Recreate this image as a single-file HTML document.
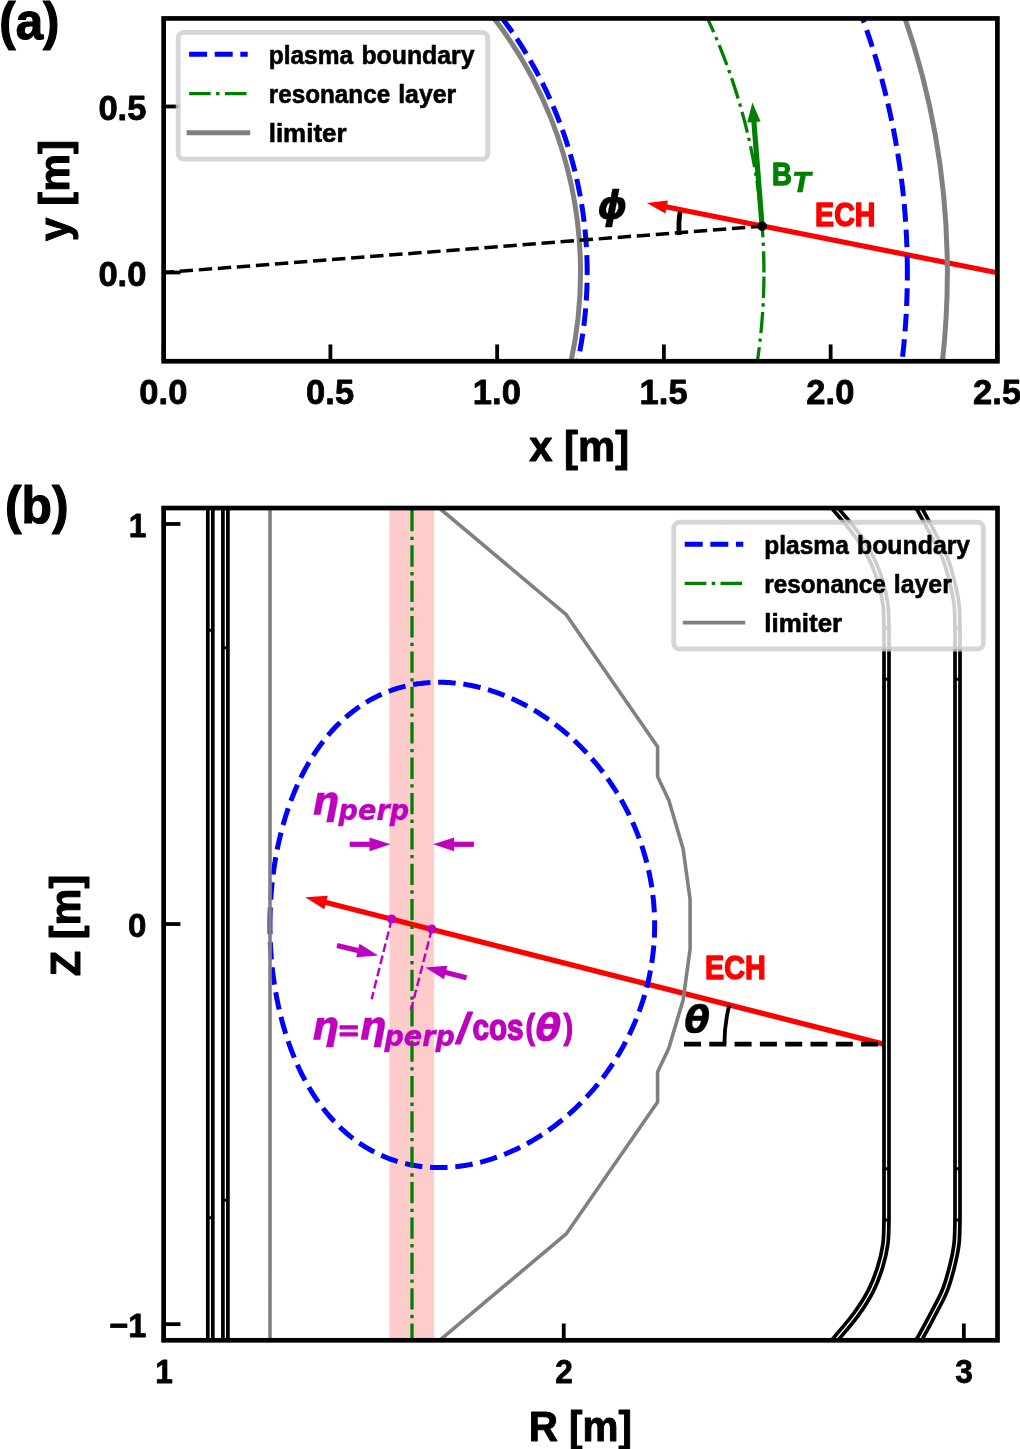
<!DOCTYPE html>
<html><head><meta charset="utf-8"><title>figure</title>
<style>html,body{margin:0;padding:0;background:#fff}svg{display:block}</style></head>
<body>
<svg width="1020" height="1449" viewBox="0 0 1020 1449">
<rect width="1020" height="1449" fill="#fff"/>
<defs><clipPath id="ca"><rect x="163.65" y="18.45" width="833.75" height="342.8"/></clipPath>
<clipPath id="cb"><rect x="163.65" y="508.05" width="833.85" height="832.25"/></clipPath></defs>
<g clip-path="url(#ca)" fill="none">
<path d="M679.36,234.95 A83.2,83.2 0 0 1 680.53,209.79" stroke="#000" stroke-width="4.8"/>
<line x1="997.40" y1="272.70" x2="664.65" y2="206.55" stroke="#ff0000" stroke-width="5.2"/>
<polygon points="646.80,203.00 667.90,200.47 665.33,213.41" fill="#ff0000"/>
<line x1="762.10" y1="226.20" x2="753.77" y2="119.95" stroke="#008000" stroke-width="5.2"/>
<polygon points="752.40,102.50 760.60,121.42 747.24,122.46" fill="#008000"/>
<circle transform="translate(163.65,272.6) scale(1,-1)" cx="0" cy="0" r="416.88" stroke="#808080" stroke-width="5.0"/>
<circle transform="translate(163.65,272.6) scale(1,-1)" cx="0" cy="0" r="783.73" stroke="#808080" stroke-width="5.0"/>
<circle transform="translate(163.65,272.6) scale(1,-1)" cx="0" cy="0" r="423.55" stroke="#0000ff" stroke-width="5.0" stroke-dasharray="17.687 7.872"/>
<circle transform="translate(163.65,272.6) scale(1,-1)" cx="0" cy="0" r="743.71" stroke="#0000ff" stroke-width="5.0" stroke-dasharray="17.638 7.851"/>
<circle transform="translate(163.65,272.6) scale(1,-1)" cx="0" cy="0" r="600.30" stroke="#008000" stroke-width="3.3" stroke-dasharray="21.34 5.33 3.33 5.34"/>
<line x1="163.65" y1="272.6" x2="762.1" y2="226.2" stroke="#000" stroke-width="3.5" stroke-dasharray="13.4 5.7" stroke-dashoffset="3"/>
<circle cx="762.1" cy="226.2" r="4.8" fill="#000"/>
</g>
<text x="597.00" y="218.50" font-family='"DejaVu Sans", sans-serif' font-size="38.6" font-weight="bold" fill="#000" font-style="italic" stroke="#000" stroke-width="0.30" stroke-linejoin="round">ϕ</text>
<text x="772.00" y="184.50" font-family='"Liberation Sans", sans-serif' font-size="31.8" font-weight="bold" fill="#008000" textLength="19.80" lengthAdjust="spacingAndGlyphs" stroke="#008000" stroke-width="1.40" stroke-linejoin="round">B</text>
<text x="792.50" y="191.60" font-family='"DejaVu Sans", sans-serif' font-size="27.4" font-weight="bold" fill="#008000" font-style="italic" stroke="#008000" stroke-width="0.30" stroke-linejoin="round">T</text>
<text x="815.10" y="225.80" font-family='"Liberation Sans", sans-serif' font-size="32.8" font-weight="bold" fill="#ff0000" textLength="60.40" lengthAdjust="spacingAndGlyphs" stroke="#ff0000" stroke-width="1.40" stroke-linejoin="round">ECH</text>
<g stroke="#000" stroke-width="3.8">
<line x1="163.65" y1="361.25" x2="163.65" y2="344.45"/>
<line x1="330.40" y1="361.25" x2="330.40" y2="344.45"/>
<line x1="497.15" y1="361.25" x2="497.15" y2="344.45"/>
<line x1="663.90" y1="361.25" x2="663.90" y2="344.45"/>
<line x1="830.65" y1="361.25" x2="830.65" y2="344.45"/>
<line x1="997.40" y1="361.25" x2="997.40" y2="344.45"/>
<line x1="163.65" y1="272.50" x2="180.45000000000002" y2="272.50"/>
<line x1="163.65" y1="106.50" x2="180.45000000000002" y2="106.50"/>
</g>
<rect x="163.65" y="18.45" width="833.75" height="342.8" fill="none" stroke="#000" stroke-width="4.7"/>
<rect x="178.2" y="32.35" width="309.6" height="126.8" rx="5.8" fill="#fff" fill-opacity="0.8" stroke="#ccc" stroke-opacity="0.8" stroke-width="4.9"/>
<line x1="189.1" y1="54.35" x2="247.7" y2="54.35" stroke="#0000ff" stroke-width="5.0" stroke-dasharray="18.0 7.6"/>
<line x1="189.1" y1="93.55000000000001" x2="247.7" y2="93.55000000000001" stroke="#008000" stroke-width="3.3" stroke-dasharray="21.6 5.4 3.4 5.4"/>
<line x1="189.1" y1="132.85" x2="247.7" y2="132.85" stroke="#808080" stroke-width="5.0" stroke-linecap="square"/>
<text x="268.70" y="63.75" font-family='"Liberation Sans", sans-serif' font-size="26.5" font-weight="bold" fill="#000" textLength="84.50" lengthAdjust="spacingAndGlyphs" stroke="#000" stroke-width="0.61" stroke-linejoin="round">plasma</text>
<text x="361.40" y="63.75" font-family='"Liberation Sans", sans-serif' font-size="26.5" font-weight="bold" fill="#000" textLength="113.20" lengthAdjust="spacingAndGlyphs" stroke="#000" stroke-width="0.61" stroke-linejoin="round">boundary</text>
<text x="268.70" y="102.65" font-family='"Liberation Sans", sans-serif' font-size="26.5" font-weight="bold" fill="#000" textLength="121.50" lengthAdjust="spacingAndGlyphs" stroke="#000" stroke-width="0.61" stroke-linejoin="round">resonance</text>
<text x="398.20" y="102.65" font-family='"Liberation Sans", sans-serif' font-size="26.5" font-weight="bold" fill="#000" textLength="58.00" lengthAdjust="spacingAndGlyphs" stroke="#000" stroke-width="0.61" stroke-linejoin="round">layer</text>
<text x="268.70" y="141.95" font-family='"Liberation Sans", sans-serif' font-size="26.5" font-weight="bold" fill="#000" textLength="77.90" lengthAdjust="spacingAndGlyphs" stroke="#000" stroke-width="0.61" stroke-linejoin="round">limiter</text>
<text x="163.35" y="404.30" font-family='"Liberation Sans", sans-serif' font-size="34.6" font-weight="bold" fill="#000" text-anchor="middle" textLength="48.00" lengthAdjust="spacingAndGlyphs" stroke="#000" stroke-width="0.80" stroke-linejoin="round">0.0</text>
<text x="330.10" y="404.30" font-family='"Liberation Sans", sans-serif' font-size="34.6" font-weight="bold" fill="#000" text-anchor="middle" textLength="48.00" lengthAdjust="spacingAndGlyphs" stroke="#000" stroke-width="0.80" stroke-linejoin="round">0.5</text>
<text x="496.85" y="404.30" font-family='"Liberation Sans", sans-serif' font-size="34.6" font-weight="bold" fill="#000" text-anchor="middle" textLength="48.00" lengthAdjust="spacingAndGlyphs" stroke="#000" stroke-width="0.80" stroke-linejoin="round">1.0</text>
<text x="663.60" y="404.30" font-family='"Liberation Sans", sans-serif' font-size="34.6" font-weight="bold" fill="#000" text-anchor="middle" textLength="48.00" lengthAdjust="spacingAndGlyphs" stroke="#000" stroke-width="0.80" stroke-linejoin="round">1.5</text>
<text x="830.35" y="404.30" font-family='"Liberation Sans", sans-serif' font-size="34.6" font-weight="bold" fill="#000" text-anchor="middle" textLength="48.00" lengthAdjust="spacingAndGlyphs" stroke="#000" stroke-width="0.80" stroke-linejoin="round">2.0</text>
<text x="997.10" y="404.30" font-family='"Liberation Sans", sans-serif' font-size="34.6" font-weight="bold" fill="#000" text-anchor="middle" textLength="48.00" lengthAdjust="spacingAndGlyphs" stroke="#000" stroke-width="0.80" stroke-linejoin="round">2.5</text>
<text x="146.40" y="286.40" font-family='"Liberation Sans", sans-serif' font-size="34.6" font-weight="bold" fill="#000" text-anchor="end" textLength="48.00" lengthAdjust="spacingAndGlyphs" stroke="#000" stroke-width="0.80" stroke-linejoin="round">0.0</text>
<text x="146.40" y="119.60" font-family='"Liberation Sans", sans-serif' font-size="34.6" font-weight="bold" fill="#000" text-anchor="end" textLength="48.00" lengthAdjust="spacingAndGlyphs" stroke="#000" stroke-width="0.80" stroke-linejoin="round">0.5</text>
<text x="579.20" y="461.20" font-family='"Liberation Sans", sans-serif' font-size="43" font-weight="bold" fill="#000" text-anchor="middle" textLength="100.00" lengthAdjust="spacingAndGlyphs" stroke="#000" stroke-width="0.99" stroke-linejoin="round">x [m]</text>
<g transform="translate(69.2,190.6) rotate(-90)">
<text x="0.00" y="0.00" font-family='"Liberation Sans", sans-serif' font-size="43" font-weight="bold" fill="#000" text-anchor="middle" textLength="101.50" lengthAdjust="spacingAndGlyphs" stroke="#000" stroke-width="0.99" stroke-linejoin="round">y [m]</text>
</g>
<text x="-0.70" y="38.70" font-family='"Liberation Sans", sans-serif' font-size="52.5" font-weight="bold" fill="#000" textLength="60.20" lengthAdjust="spacingAndGlyphs" stroke="#000" stroke-width="1.21" stroke-linejoin="round">(a)</text>
<g clip-path="url(#cb)" fill="none">
<rect x="389.4" y="508.05" width="44.7" height="832.25" fill="#ffcccc"/>
<line x1="884.50" y1="1044.40" x2="324.10" y2="902.00" stroke="#ff0000" stroke-width="5.3"/>
<polygon points="305.20,897.20 327.76,895.71 324.31,909.28" fill="#ff0000"/>
<line x1="349.70" y1="844.30" x2="371.50" y2="844.30" stroke="#bf00bf" stroke-width="5.2"/>
<polygon points="390.50,844.30 369.50,851.20 369.50,837.40" fill="#bf00bf"/>
<line x1="473.90" y1="844.30" x2="452.10" y2="844.30" stroke="#bf00bf" stroke-width="5.2"/>
<polygon points="433.10,844.30 454.10,837.40 454.10,851.20" fill="#bf00bf"/>
<line x1="337.00" y1="945.50" x2="359.74" y2="951.02" stroke="#bf00bf" stroke-width="5.2"/>
<polygon points="378.20,955.50 356.17,957.25 359.42,943.84" fill="#bf00bf"/>
<line x1="466.50" y1="977.70" x2="443.74" y2="972.07" stroke="#bf00bf" stroke-width="5.2"/>
<polygon points="425.30,967.50 447.34,965.85 444.03,979.24" fill="#bf00bf"/>
<line x1="210.3" y1="508.05" x2="210.3" y2="1340.3" stroke="#000" stroke-width="8.7"/>
<line x1="210.3" y1="508.05" x2="210.3" y2="1340.3" stroke="#fff" stroke-width="1.3"/>
<line x1="208.8" y1="630.30" x2="211.8" y2="630.30" stroke="#000" stroke-width="3"/>
<line x1="208.8" y1="1217.80" x2="211.8" y2="1217.80" stroke="#000" stroke-width="3"/>
<line x1="225.4" y1="508.05" x2="225.4" y2="1340.3" stroke="#000" stroke-width="8.7"/>
<line x1="225.4" y1="508.05" x2="225.4" y2="1340.3" stroke="#fff" stroke-width="1.3"/>
<line x1="223.9" y1="647.80" x2="226.9" y2="647.80" stroke="#000" stroke-width="3"/>
<line x1="223.9" y1="1200.30" x2="226.9" y2="1200.30" stroke="#000" stroke-width="3"/>
<path d="M815.00,485.10 C818.58,489.23 829.70,501.85 836.50,509.90 C843.30,517.95 850.12,525.57 855.80,533.40 C861.48,541.23 866.57,549.05 870.60,556.90 C874.63,564.75 877.53,572.63 880.00,580.50 C882.47,588.37 884.32,596.17 885.40,604.10 C886.48,612.03 886.32,624.10 886.50,628.10 L886.50,1220.00 C886.32,1224.00 886.48,1236.07 885.40,1244.00 C884.32,1251.93 882.47,1259.73 880.00,1267.60 C877.53,1275.47 874.63,1283.35 870.60,1291.20 C866.57,1299.05 861.48,1306.87 855.80,1314.70 C850.12,1322.53 843.30,1330.15 836.50,1338.20 C829.70,1346.25 818.58,1358.87 815.00,1363.00" stroke="#000" stroke-width="8.7" stroke-linejoin="round"/>
<path d="M815.00,485.10 C818.58,489.23 829.70,501.85 836.50,509.90 C843.30,517.95 850.12,525.57 855.80,533.40 C861.48,541.23 866.57,549.05 870.60,556.90 C874.63,564.75 877.53,572.63 880.00,580.50 C882.47,588.37 884.32,596.17 885.40,604.10 C886.48,612.03 886.32,624.10 886.50,628.10 L886.50,1220.00 C886.32,1224.00 886.48,1236.07 885.40,1244.00 C884.32,1251.93 882.47,1259.73 880.00,1267.60 C877.53,1275.47 874.63,1283.35 870.60,1291.20 C866.57,1299.05 861.48,1306.87 855.80,1314.70 C850.12,1322.53 843.30,1330.15 836.50,1338.20 C829.70,1346.25 818.58,1358.87 815.00,1363.00" stroke="#fff" stroke-width="1.3" stroke-linejoin="round"/>
<line x1="885.0" y1="1168.80" x2="888.0" y2="1168.80" stroke="#000" stroke-width="3"/>
<line x1="885.0" y1="1220.00" x2="888.0" y2="1220.00" stroke="#000" stroke-width="3"/>
<line x1="885.0" y1="679.30" x2="888.0" y2="679.30" stroke="#000" stroke-width="3"/>
<line x1="885.0" y1="628.10" x2="888.0" y2="628.10" stroke="#000" stroke-width="3"/>
<path d="M906.00,485.10 C908.33,489.23 915.55,501.85 920.00,509.90 C924.45,517.95 928.62,525.57 932.70,533.40 C936.78,541.23 941.32,549.05 944.50,556.90 C947.68,564.75 949.80,572.63 951.80,580.50 C953.80,588.37 955.55,596.17 956.50,604.10 C957.45,612.03 957.33,624.10 957.50,628.10 L957.50,1220.00 C957.33,1224.00 957.45,1236.07 956.50,1244.00 C955.55,1251.93 953.80,1259.73 951.80,1267.60 C949.80,1275.47 947.68,1283.35 944.50,1291.20 C941.32,1299.05 936.78,1306.87 932.70,1314.70 C928.62,1322.53 924.45,1330.15 920.00,1338.20 C915.55,1346.25 908.33,1358.87 906.00,1363.00" stroke="#000" stroke-width="8.7" stroke-linejoin="round"/>
<path d="M906.00,485.10 C908.33,489.23 915.55,501.85 920.00,509.90 C924.45,517.95 928.62,525.57 932.70,533.40 C936.78,541.23 941.32,549.05 944.50,556.90 C947.68,564.75 949.80,572.63 951.80,580.50 C953.80,588.37 955.55,596.17 956.50,604.10 C957.45,612.03 957.33,624.10 957.50,628.10 L957.50,1220.00 C957.33,1224.00 957.45,1236.07 956.50,1244.00 C955.55,1251.93 953.80,1259.73 951.80,1267.60 C949.80,1275.47 947.68,1283.35 944.50,1291.20 C941.32,1299.05 936.78,1306.87 932.70,1314.70 C928.62,1322.53 924.45,1330.15 920.00,1338.20 C915.55,1346.25 908.33,1358.87 906.00,1363.00" stroke="#fff" stroke-width="1.3" stroke-linejoin="round"/>
<line x1="956.0" y1="1168.80" x2="959.0" y2="1168.80" stroke="#000" stroke-width="3"/>
<line x1="956.0" y1="1220.00" x2="959.0" y2="1220.00" stroke="#000" stroke-width="3"/>
<line x1="956.0" y1="679.30" x2="959.0" y2="679.30" stroke="#000" stroke-width="3"/>
<line x1="956.0" y1="628.10" x2="959.0" y2="628.10" stroke="#000" stroke-width="3"/>
<path d="M269.95,924.92 L269.96,922.79 L269.97,920.66 L270.00,918.54 L270.04,916.41 L270.09,914.28 L270.15,912.16 L270.22,910.03 L270.31,907.91 L270.40,905.79 L270.51,903.66 L270.63,901.55 L270.76,899.43 L270.90,897.31 L271.05,895.20 L271.21,893.09 L271.38,890.98 L271.57,888.87 L271.77,886.77 L271.97,884.67 L272.19,882.58 L272.42,880.48 L272.66,878.39 L272.91,876.31 L273.18,874.22 L273.45,872.15 L273.74,870.07 L274.03,868.00 L274.34,865.94 L274.66,863.87 L274.99,861.82 L275.33,859.77 L275.68,857.72 L276.05,855.68 L276.42,853.64 L276.81,851.61 L277.21,849.59 L277.61,847.57 L278.03,845.56 L278.46,843.55 L278.91,841.55 L279.36,839.56 L279.82,837.58 L280.30,835.60 L280.78,833.62 L281.28,831.66 L281.79,829.70 L282.31,827.75 L282.84,825.81 L283.38,823.87 L283.93,821.94 L284.49,820.02 L285.07,818.11 L285.65,816.21 L286.25,814.31 L286.86,812.43 L287.48,810.55 L288.11,808.68 L288.75,806.82 L289.40,804.97 L290.06,803.13 L290.73,801.30 L291.42,799.48 L292.11,797.67 L292.82,795.87 L293.53,794.07 L294.26,792.29 L295.00,790.52 L295.75,788.76 L296.51,787.01 L297.28,785.27 L298.06,783.54 L298.85,781.82 L299.66,780.11 L300.47,778.42 L301.29,776.73 L302.13,775.06 L302.98,773.40 L303.83,771.75 L304.70,770.11 L305.58,768.49 L306.46,766.87 L307.36,765.27 L308.27,763.68 L309.19,762.10 L310.12,760.54 L311.06,758.99 L312.01,757.45 L312.97,755.92 L313.95,754.41 L314.93,752.91 L315.92,751.42 L316.92,749.95 L317.94,748.49 L318.96,747.04 L319.99,745.61 L321.04,744.19 L322.09,742.79 L323.15,741.40 L324.23,740.02 L325.31,738.66 L326.40,737.31 L327.51,735.97 L328.62,734.65 L329.74,733.35 L330.88,732.06 L332.02,730.78 L333.17,729.52 L334.33,728.28 L335.50,727.05 L336.69,725.83 L337.88,724.63 L339.08,723.44 L340.29,722.27 L341.51,721.12 L342.73,719.98 L343.97,718.86 L345.22,717.75 L346.47,716.66 L347.74,715.58 L349.01,714.52 L350.30,713.48 L351.59,712.45 L352.89,711.44 L354.20,710.45 L355.52,709.47 L356.85,708.50 L358.18,707.56 L359.53,706.63 L360.88,705.72 L362.24,704.82 L363.61,703.94 L364.99,703.08 L366.37,702.23 L367.77,701.40 L369.17,700.59 L370.58,699.79 L372.00,699.02 L373.43,698.25 L374.86,697.51 L376.30,696.78 L377.75,696.07 L379.21,695.38 L380.68,694.71 L382.15,694.05 L383.63,693.41 L385.11,692.79 L386.61,692.18 L388.11,691.60 L389.62,691.03 L391.13,690.48 L392.65,689.94 L394.18,689.43 L395.71,688.93 L397.26,688.45 L398.80,687.98 L400.36,687.54 L401.92,687.11 L403.48,686.70 L405.06,686.31 L406.63,685.94 L408.22,685.58 L409.81,685.25 L411.40,684.93 L413.00,684.63 L414.61,684.34 L416.22,684.08 L417.84,683.83 L419.46,683.61 L421.09,683.40 L422.72,683.20 L424.35,683.03 L426.00,682.87 L427.64,682.74 L429.29,682.62 L430.94,682.52 L432.60,682.44 L434.26,682.37 L435.93,682.33 L437.60,682.30 L439.27,682.29 L440.95,682.30 L442.63,682.33 L444.31,682.37 L446.00,682.44 L447.69,682.52 L449.38,682.62 L451.08,682.74 L452.78,682.87 L454.48,683.03 L456.18,683.20 L457.88,683.40 L459.59,683.61 L461.30,683.83 L463.01,684.08 L464.72,684.34 L466.44,684.63 L468.15,684.93 L469.87,685.25 L471.59,685.58 L473.31,685.94 L475.02,686.31 L476.74,686.70 L478.46,687.11 L480.19,687.54 L481.91,687.98 L483.63,688.45 L485.35,688.93 L487.07,689.43 L488.79,689.94 L490.51,690.48 L492.23,691.03 L493.95,691.60 L495.66,692.18 L497.38,692.79 L499.09,693.41 L500.81,694.05 L502.52,694.71 L504.23,695.38 L505.94,696.07 L507.64,696.78 L509.35,697.51 L511.05,698.25 L512.75,699.02 L514.44,699.79 L516.14,700.59 L517.83,701.40 L519.51,702.23 L521.20,703.08 L522.87,703.94 L524.55,704.82 L526.22,705.72 L527.89,706.63 L529.56,707.56 L531.21,708.50 L532.87,709.47 L534.52,710.45 L536.17,711.44 L537.81,712.45 L539.44,713.48 L541.07,714.52 L542.70,715.58 L544.31,716.66 L545.93,717.75 L547.53,718.86 L549.13,719.98 L550.73,721.12 L552.32,722.27 L553.90,723.44 L555.47,724.63 L557.04,725.83 L558.60,727.05 L560.15,728.28 L561.70,729.52 L563.24,730.78 L564.77,732.06 L566.29,733.35 L567.80,734.65 L569.31,735.97 L570.81,737.31 L572.30,738.66 L573.78,740.02 L575.25,741.40 L576.71,742.79 L578.16,744.19 L579.61,745.61 L581.04,747.04 L582.46,748.49 L583.88,749.95 L585.28,751.42 L586.68,752.91 L588.06,754.41 L589.43,755.92 L590.80,757.45 L592.15,758.99 L593.49,760.54 L594.82,762.10 L596.14,763.68 L597.45,765.27 L598.74,766.87 L600.03,768.49 L601.30,770.11 L602.56,771.75 L603.81,773.40 L605.05,775.06 L606.27,776.73 L607.48,778.42 L608.68,780.11 L609.87,781.82 L611.04,783.54 L612.20,785.27 L613.34,787.01 L614.48,788.76 L615.60,790.52 L616.70,792.29 L617.80,794.07 L618.88,795.87 L619.94,797.67 L620.99,799.48 L622.03,801.30 L623.05,803.13 L624.06,804.97 L625.05,806.82 L626.03,808.68 L627.00,810.55 L627.94,812.43 L628.88,814.31 L629.80,816.21 L630.70,818.11 L631.59,820.02 L632.46,821.94 L633.32,823.87 L634.16,825.81 L634.99,827.75 L635.80,829.70 L636.59,831.66 L637.37,833.62 L638.13,835.60 L638.88,837.58 L639.61,839.56 L640.32,841.55 L641.02,843.55 L641.70,845.56 L642.36,847.57 L643.01,849.59 L643.64,851.61 L644.25,853.64 L644.85,855.68 L645.43,857.72 L645.99,859.77 L646.53,861.82 L647.06,863.87 L647.57,865.94 L648.06,868.00 L648.54,870.07 L649.00,872.15 L649.44,874.22 L649.86,876.31 L650.27,878.39 L650.65,880.48 L651.02,882.58 L651.38,884.67 L651.71,886.77 L652.03,888.87 L652.33,890.98 L652.61,893.09 L652.87,895.20 L653.11,897.31 L653.34,899.43 L653.55,901.55 L653.74,903.66 L653.91,905.79 L654.07,907.91 L654.20,910.03 L654.32,912.16 L654.42,914.28 L654.50,916.41 L654.57,918.54 L654.61,920.66 L654.64,922.79 L654.65,924.92 L654.64,927.05 L654.61,929.18 L654.57,931.30 L654.50,933.43 L654.42,935.56 L654.32,937.68 L654.20,939.81 L654.07,941.93 L653.91,944.05 L653.74,946.18 L653.55,948.29 L653.34,950.41 L653.11,952.53 L652.87,954.64 L652.61,956.75 L652.33,958.86 L652.03,960.97 L651.71,963.07 L651.38,965.17 L651.02,967.26 L650.65,969.36 L650.27,971.45 L649.86,973.53 L649.44,975.62 L649.00,977.69 L648.54,979.77 L648.06,981.84 L647.57,983.90 L647.06,985.97 L646.53,988.02 L645.99,990.07 L645.43,992.12 L644.85,994.16 L644.25,996.20 L643.64,998.23 L643.01,1000.25 L642.36,1002.27 L641.70,1004.28 L641.02,1006.29 L640.32,1008.29 L639.61,1010.28 L638.88,1012.26 L638.13,1014.24 L637.37,1016.22 L636.59,1018.18 L635.80,1020.14 L634.99,1022.09 L634.16,1024.03 L633.32,1025.97 L632.46,1027.90 L631.59,1029.82 L630.70,1031.73 L629.80,1033.63 L628.88,1035.53 L627.94,1037.41 L627.00,1039.29 L626.03,1041.16 L625.05,1043.02 L624.06,1044.87 L623.05,1046.71 L622.03,1048.54 L620.99,1050.36 L619.94,1052.17 L618.88,1053.97 L617.80,1055.77 L616.70,1057.55 L615.60,1059.32 L614.48,1061.08 L613.34,1062.83 L612.20,1064.57 L611.04,1066.30 L609.87,1068.02 L608.68,1069.73 L607.48,1071.42 L606.27,1073.11 L605.05,1074.78 L603.81,1076.44 L602.56,1078.09 L601.30,1079.73 L600.03,1081.35 L598.74,1082.97 L597.45,1084.57 L596.14,1086.16 L594.82,1087.74 L593.49,1089.30 L592.15,1090.85 L590.80,1092.39 L589.43,1093.92 L588.06,1095.43 L586.68,1096.93 L585.28,1098.42 L583.88,1099.89 L582.46,1101.35 L581.04,1102.80 L579.61,1104.23 L578.16,1105.65 L576.71,1107.05 L575.25,1108.44 L573.78,1109.82 L572.30,1111.18 L570.81,1112.53 L569.31,1113.87 L567.80,1115.19 L566.29,1116.49 L564.77,1117.78 L563.24,1119.06 L561.70,1120.32 L560.15,1121.56 L558.60,1122.79 L557.04,1124.01 L555.47,1125.21 L553.90,1126.40 L552.32,1127.57 L550.73,1128.72 L549.13,1129.86 L547.53,1130.98 L545.93,1132.09 L544.31,1133.18 L542.70,1134.26 L541.07,1135.32 L539.44,1136.36 L537.81,1137.39 L536.17,1138.40 L534.52,1139.39 L532.87,1140.37 L531.21,1141.34 L529.56,1142.28 L527.89,1143.21 L526.22,1144.12 L524.55,1145.02 L522.87,1145.90 L521.20,1146.76 L519.51,1147.61 L517.83,1148.44 L516.14,1149.25 L514.44,1150.05 L512.75,1150.82 L511.05,1151.59 L509.35,1152.33 L507.64,1153.06 L505.94,1153.77 L504.23,1154.46 L502.52,1155.13 L500.81,1155.79 L499.09,1156.43 L497.38,1157.05 L495.66,1157.66 L493.95,1158.24 L492.23,1158.81 L490.51,1159.36 L488.79,1159.90 L487.07,1160.41 L485.35,1160.91 L483.63,1161.39 L481.91,1161.86 L480.19,1162.30 L478.46,1162.73 L476.74,1163.14 L475.02,1163.53 L473.31,1163.90 L471.59,1164.26 L469.87,1164.59 L468.15,1164.91 L466.44,1165.21 L464.72,1165.50 L463.01,1165.76 L461.30,1166.01 L459.59,1166.23 L457.88,1166.44 L456.18,1166.64 L454.48,1166.81 L452.78,1166.97 L451.08,1167.10 L449.38,1167.22 L447.69,1167.32 L446.00,1167.40 L444.31,1167.47 L442.63,1167.51 L440.95,1167.54 L439.27,1167.55 L437.60,1167.54 L435.93,1167.51 L434.26,1167.47 L432.60,1167.40 L430.94,1167.32 L429.29,1167.22 L427.64,1167.10 L426.00,1166.97 L424.35,1166.81 L422.72,1166.64 L421.09,1166.44 L419.46,1166.23 L417.84,1166.01 L416.22,1165.76 L414.61,1165.50 L413.00,1165.21 L411.40,1164.91 L409.81,1164.59 L408.22,1164.26 L406.63,1163.90 L405.06,1163.53 L403.48,1163.14 L401.92,1162.73 L400.36,1162.30 L398.80,1161.86 L397.26,1161.39 L395.71,1160.91 L394.18,1160.41 L392.65,1159.90 L391.13,1159.36 L389.62,1158.81 L388.11,1158.24 L386.61,1157.66 L385.11,1157.05 L383.63,1156.43 L382.15,1155.79 L380.68,1155.13 L379.21,1154.46 L377.75,1153.77 L376.30,1153.06 L374.86,1152.33 L373.43,1151.59 L372.00,1150.82 L370.58,1150.05 L369.17,1149.25 L367.77,1148.44 L366.37,1147.61 L364.99,1146.76 L363.61,1145.90 L362.24,1145.02 L360.88,1144.12 L359.53,1143.21 L358.18,1142.28 L356.85,1141.34 L355.52,1140.37 L354.20,1139.39 L352.89,1138.40 L351.59,1137.39 L350.30,1136.36 L349.01,1135.32 L347.74,1134.26 L346.47,1133.18 L345.22,1132.09 L343.97,1130.98 L342.73,1129.86 L341.51,1128.72 L340.29,1127.57 L339.08,1126.40 L337.88,1125.21 L336.69,1124.01 L335.50,1122.79 L334.33,1121.56 L333.17,1120.32 L332.02,1119.06 L330.88,1117.78 L329.74,1116.49 L328.62,1115.19 L327.51,1113.87 L326.40,1112.53 L325.31,1111.18 L324.23,1109.82 L323.15,1108.44 L322.09,1107.05 L321.04,1105.65 L319.99,1104.23 L318.96,1102.80 L317.94,1101.35 L316.92,1099.89 L315.92,1098.42 L314.93,1096.93 L313.95,1095.43 L312.97,1093.92 L312.01,1092.39 L311.06,1090.85 L310.12,1089.30 L309.19,1087.74 L308.27,1086.16 L307.36,1084.57 L306.46,1082.97 L305.58,1081.35 L304.70,1079.73 L303.83,1078.09 L302.98,1076.44 L302.13,1074.78 L301.29,1073.11 L300.47,1071.42 L299.66,1069.73 L298.85,1068.02 L298.06,1066.30 L297.28,1064.57 L296.51,1062.83 L295.75,1061.08 L295.00,1059.32 L294.26,1057.55 L293.53,1055.77 L292.82,1053.97 L292.11,1052.17 L291.42,1050.36 L290.73,1048.54 L290.06,1046.71 L289.40,1044.87 L288.75,1043.02 L288.11,1041.16 L287.48,1039.29 L286.86,1037.41 L286.25,1035.53 L285.65,1033.63 L285.07,1031.73 L284.49,1029.82 L283.93,1027.90 L283.38,1025.97 L282.84,1024.03 L282.31,1022.09 L281.79,1020.14 L281.28,1018.18 L280.78,1016.22 L280.30,1014.24 L279.82,1012.26 L279.36,1010.28 L278.91,1008.29 L278.46,1006.29 L278.03,1004.28 L277.61,1002.27 L277.21,1000.25 L276.81,998.23 L276.42,996.20 L276.05,994.16 L275.68,992.12 L275.33,990.07 L274.99,988.02 L274.66,985.97 L274.34,983.90 L274.03,981.84 L273.74,979.77 L273.45,977.69 L273.18,975.62 L272.91,973.53 L272.66,971.45 L272.42,969.36 L272.19,967.26 L271.97,965.17 L271.77,963.07 L271.57,960.97 L271.38,958.86 L271.21,956.75 L271.05,954.64 L270.90,952.53 L270.76,950.41 L270.63,948.29 L270.51,946.18 L270.40,944.05 L270.31,941.93 L270.22,939.81 L270.15,937.68 L270.09,935.56 L270.04,933.43 L270.00,931.30 L269.97,929.18 L269.96,927.05 L269.95,924.92" stroke="#0000ff" stroke-width="5.0" stroke-dasharray="17.510 7.757"/>
<polyline points="270,1360.60 270,488.00 415.51,488.00 439.30,508.00 566.20,614.70 657.60,746.70 657.60,776.60 668.90,800.60 683.10,848.70 690.10,899.60 690.10,949.10 683.10,999.90 668.90,1048.00 657.60,1072.00 657.60,1101.90 566.20,1233.90 439.30,1340.60 415.51,1360.60" stroke="#808080" stroke-width="3.6" stroke-linejoin="round"/>
<line x1="412" y1="1340.3" x2="412" y2="508.05" stroke="#008000" stroke-width="3.3" stroke-dasharray="21.3 5.35 3.35 5.37" stroke-dashoffset="4.5"/>
<line x1="684" y1="1044.1" x2="883.6" y2="1044.1" stroke="#000" stroke-width="4.7" stroke-dasharray="17.0 8.3"/>
<path d="M724.40,1044.2 A159.2,159.2 0 0 1 729.24,1005.23" stroke="#000" stroke-width="3.8"/>
<line x1="391.7" y1="919.3" x2="371.6" y2="999.2" stroke="#bf00bf" stroke-width="2.4" stroke-dasharray="8.7 3.8"/>
<line x1="431.8" y1="929.3" x2="410.7" y2="1011.0" stroke="#bf00bf" stroke-width="2.4" stroke-dasharray="8.7 3.8"/>
<circle cx="391.7" cy="919.0" r="4.6" fill="#bf00bf"/><circle cx="431.8" cy="929.0" r="4.6" fill="#bf00bf"/>
</g>
<text x="311.80" y="813.60" font-family='"DejaVu Sans", sans-serif' font-size="38.6" font-weight="bold" fill="#bf00bf" font-style="italic" stroke="#bf00bf" stroke-width="0.30" stroke-linejoin="round">η</text>
<text x="338.60" y="819.80" font-family='"DejaVu Sans", sans-serif' font-size="29" font-weight="bold" fill="#bf00bf" font-style="italic" textLength="70.60" lengthAdjust="spacingAndGlyphs" stroke="#bf00bf" stroke-width="0.40" stroke-linejoin="round">perp</text>
<text x="705.00" y="979.10" font-family='"Liberation Sans", sans-serif' font-size="32.8" font-weight="bold" fill="#ff0000" textLength="60.80" lengthAdjust="spacingAndGlyphs" stroke="#ff0000" stroke-width="1.40" stroke-linejoin="round">ECH</text>
<text x="684.20" y="1032.20" font-family='"DejaVu Sans", sans-serif' font-size="37.6" font-weight="bold" fill="#000" font-style="italic" stroke="#000" stroke-width="0.30" stroke-linejoin="round">θ</text>
<text x="311.60" y="1039.40" font-family='"DejaVu Sans", sans-serif' font-size="38.6" font-weight="bold" fill="#bf00bf" font-style="italic" stroke="#bf00bf" stroke-width="0.30" stroke-linejoin="round">η</text>
<text x="338.90" y="1039.70" font-family='"Liberation Sans", sans-serif' font-size="26.4" font-weight="bold" fill="#bf00bf" textLength="19.50" lengthAdjust="spacingAndGlyphs" stroke="#bf00bf" stroke-width="1.30" stroke-linejoin="round">=</text>
<text x="358.90" y="1039.40" font-family='"DejaVu Sans", sans-serif' font-size="38.6" font-weight="bold" fill="#bf00bf" font-style="italic" stroke="#bf00bf" stroke-width="0.30" stroke-linejoin="round">η</text>
<text x="384.40" y="1045.80" font-family='"DejaVu Sans", sans-serif' font-size="29" font-weight="bold" fill="#bf00bf" font-style="italic" textLength="70.60" lengthAdjust="spacingAndGlyphs" stroke="#bf00bf" stroke-width="0.40" stroke-linejoin="round">perp</text>
<text x="455.20" y="1044.40" font-family='"Liberation Sans", sans-serif' font-size="44" font-weight="normal" fill="#bf00bf" textLength="17.40" lengthAdjust="spacingAndGlyphs" stroke="#bf00bf" stroke-width="0.90" stroke-linejoin="round">/</text>
<text x="472.40" y="1040.00" font-family='"Liberation Sans", sans-serif' font-size="37.5" font-weight="bold" fill="#bf00bf" textLength="51.20" lengthAdjust="spacingAndGlyphs" stroke="#bf00bf" stroke-width="1.60" stroke-linejoin="round">cos</text>
<text x="525.40" y="1038.60" font-family='"Liberation Sans", sans-serif' font-size="34.5" font-weight="bold" fill="#bf00bf" textLength="9.60" lengthAdjust="spacingAndGlyphs" stroke="#bf00bf" stroke-width="1.20" stroke-linejoin="round">(</text>
<text x="535.40" y="1040.40" font-family='"DejaVu Sans", sans-serif' font-size="37.6" font-weight="bold" fill="#bf00bf" font-style="italic" stroke="#bf00bf" stroke-width="0.30" stroke-linejoin="round">θ</text>
<text x="563.60" y="1038.60" font-family='"Liberation Sans", sans-serif' font-size="34.5" font-weight="bold" fill="#bf00bf" textLength="9.60" lengthAdjust="spacingAndGlyphs" stroke="#bf00bf" stroke-width="1.20" stroke-linejoin="round">)</text>
<g stroke="#000" stroke-width="3.8">
<line x1="163.65" y1="1340.3" x2="163.65" y2="1323.5"/>
<line x1="563.75" y1="1340.3" x2="563.75" y2="1323.5"/>
<line x1="963.85" y1="1340.3" x2="963.85" y2="1323.5"/>
<line x1="163.65" y1="523.95" x2="180.45000000000002" y2="523.95"/>
<line x1="163.65" y1="924.05" x2="180.45000000000002" y2="924.05"/>
<line x1="163.65" y1="1324.15" x2="180.45000000000002" y2="1324.15"/>
</g>
<rect x="163.65" y="508.05" width="833.85" height="832.25" fill="none" stroke="#000" stroke-width="4.7"/>
<rect x="673.8" y="522.2" width="309.6" height="126.8" rx="5.8" fill="#fff" fill-opacity="0.8" stroke="#ccc" stroke-opacity="0.8" stroke-width="4.9"/>
<line x1="684.6999999999999" y1="544.2" x2="743.3" y2="544.2" stroke="#0000ff" stroke-width="5.0" stroke-dasharray="18.0 7.6"/>
<line x1="684.6999999999999" y1="583.4000000000001" x2="743.3" y2="583.4000000000001" stroke="#008000" stroke-width="3.3" stroke-dasharray="21.6 5.4 3.4 5.4"/>
<line x1="684.6999999999999" y1="622.7" x2="743.3" y2="622.7" stroke="#808080" stroke-width="3.8" stroke-linecap="square"/>
<text x="764.30" y="553.60" font-family='"Liberation Sans", sans-serif' font-size="26.5" font-weight="bold" fill="#000" textLength="84.50" lengthAdjust="spacingAndGlyphs" stroke="#000" stroke-width="0.61" stroke-linejoin="round">plasma</text>
<text x="857.00" y="553.60" font-family='"Liberation Sans", sans-serif' font-size="26.5" font-weight="bold" fill="#000" textLength="113.20" lengthAdjust="spacingAndGlyphs" stroke="#000" stroke-width="0.61" stroke-linejoin="round">boundary</text>
<text x="764.30" y="592.50" font-family='"Liberation Sans", sans-serif' font-size="26.5" font-weight="bold" fill="#000" textLength="121.50" lengthAdjust="spacingAndGlyphs" stroke="#000" stroke-width="0.61" stroke-linejoin="round">resonance</text>
<text x="893.80" y="592.50" font-family='"Liberation Sans", sans-serif' font-size="26.5" font-weight="bold" fill="#000" textLength="58.00" lengthAdjust="spacingAndGlyphs" stroke="#000" stroke-width="0.61" stroke-linejoin="round">layer</text>
<text x="764.30" y="631.80" font-family='"Liberation Sans", sans-serif' font-size="26.5" font-weight="bold" fill="#000" textLength="77.90" lengthAdjust="spacingAndGlyphs" stroke="#000" stroke-width="0.61" stroke-linejoin="round">limiter</text>
<text x="163.95" y="1382.70" font-family='"Liberation Sans", sans-serif' font-size="33.6" font-weight="bold" fill="#000" text-anchor="middle" textLength="17.60" lengthAdjust="spacingAndGlyphs" stroke="#000" stroke-width="0.77" stroke-linejoin="round">1</text>
<text x="564.05" y="1382.70" font-family='"Liberation Sans", sans-serif' font-size="33.6" font-weight="bold" fill="#000" text-anchor="middle" textLength="17.60" lengthAdjust="spacingAndGlyphs" stroke="#000" stroke-width="0.77" stroke-linejoin="round">2</text>
<text x="964.15" y="1382.70" font-family='"Liberation Sans", sans-serif' font-size="33.6" font-weight="bold" fill="#000" text-anchor="middle" textLength="17.60" lengthAdjust="spacingAndGlyphs" stroke="#000" stroke-width="0.77" stroke-linejoin="round">3</text>
<text x="146.40" y="536.75" font-family='"Liberation Sans", sans-serif' font-size="33.6" font-weight="bold" fill="#000" text-anchor="end" textLength="17.60" lengthAdjust="spacingAndGlyphs" stroke="#000" stroke-width="0.77" stroke-linejoin="round">1</text>
<text x="146.40" y="936.85" font-family='"Liberation Sans", sans-serif' font-size="33.6" font-weight="bold" fill="#000" text-anchor="end" textLength="18.40" lengthAdjust="spacingAndGlyphs" stroke="#000" stroke-width="0.77" stroke-linejoin="round">0</text>
<text x="146.40" y="1336.95" font-family='"Liberation Sans", sans-serif' font-size="33.6" font-weight="bold" fill="#000" text-anchor="end" textLength="37.00" lengthAdjust="spacingAndGlyphs" stroke="#000" stroke-width="0.77" stroke-linejoin="round">−1</text>
<text x="580.30" y="1441.10" font-family='"Liberation Sans", sans-serif' font-size="43" font-weight="bold" fill="#000" text-anchor="middle" textLength="103.20" lengthAdjust="spacingAndGlyphs" stroke="#000" stroke-width="0.99" stroke-linejoin="round">R [m]</text>
<g transform="translate(80.1,925.5) rotate(-90)">
<text x="0.00" y="0.00" font-family='"Liberation Sans", sans-serif' font-size="43" font-weight="bold" fill="#000" text-anchor="middle" textLength="101.60" lengthAdjust="spacingAndGlyphs" stroke="#000" stroke-width="0.99" stroke-linejoin="round">Z [m]</text>
</g>
<text x="5.00" y="523.00" font-family='"Liberation Sans", sans-serif' font-size="52.5" font-weight="bold" fill="#000" textLength="63.50" lengthAdjust="spacingAndGlyphs" stroke="#000" stroke-width="1.21" stroke-linejoin="round">(b)</text>
</svg>
</body></html>
